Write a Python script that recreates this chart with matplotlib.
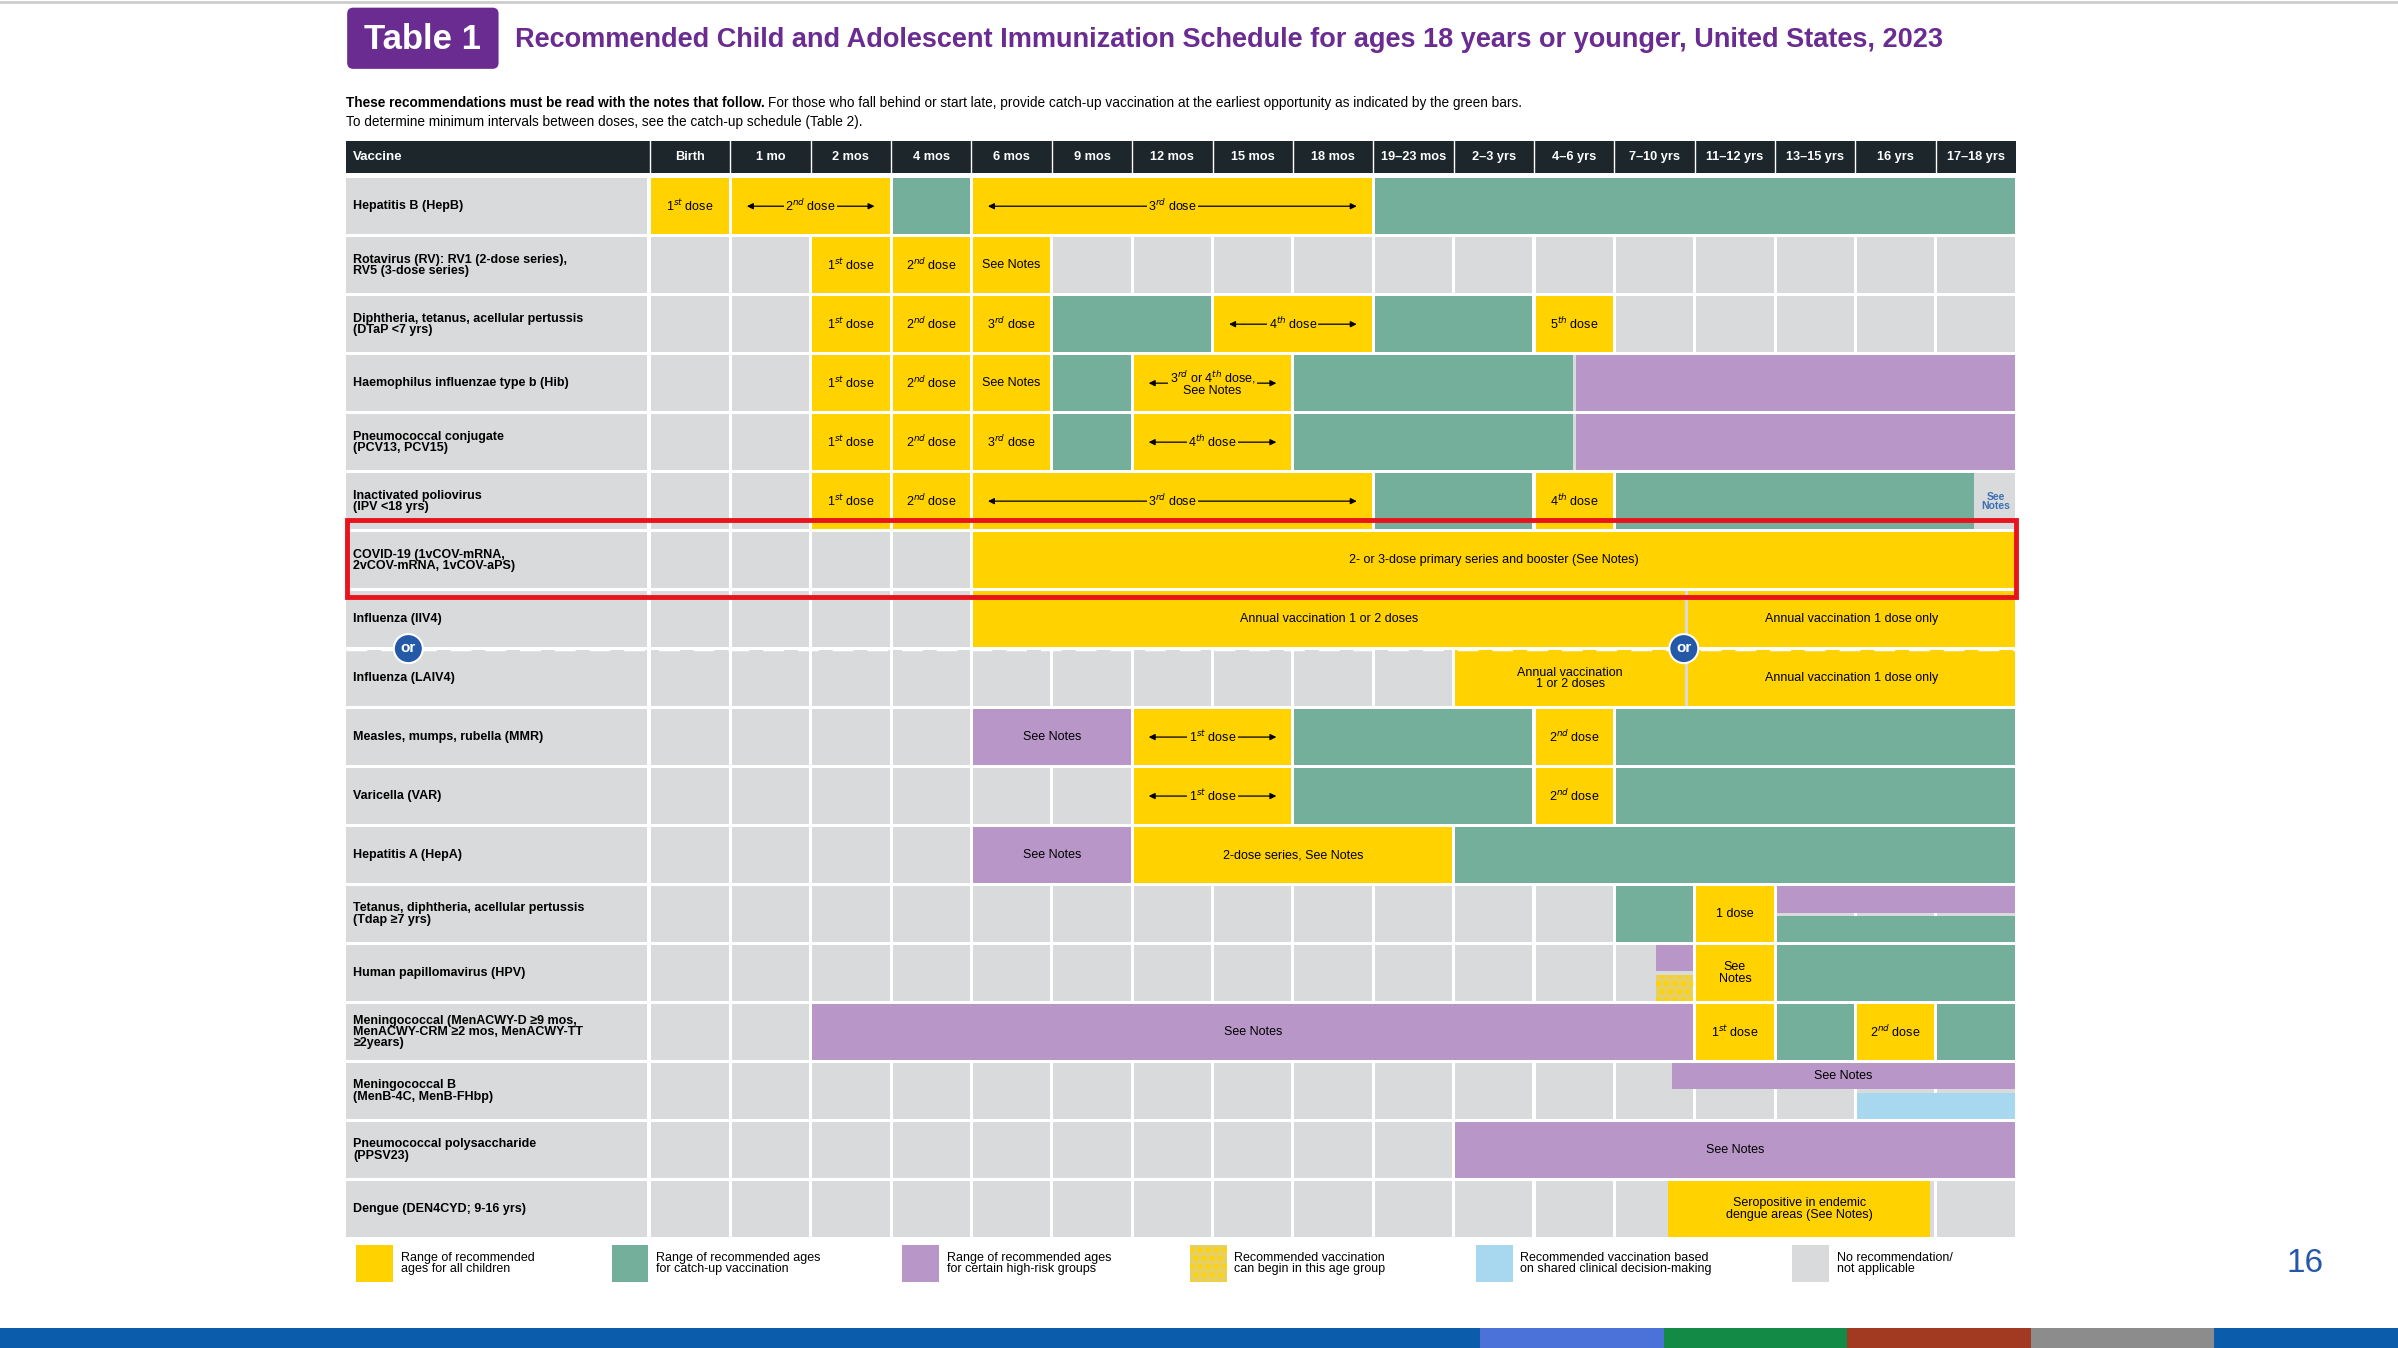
import matplotlib
matplotlib.use("Agg")
from matplotlib import pyplot as plt
from matplotlib.patches import Rectangle, FancyBboxPatch, Circle

plt.rcParams['font.family'] = ['Liberation Sans', 'DejaVu Sans']

# colours
Y = '#FFD200'; G = '#74AF9B'; P = '#B896C8'; GR = '#D9DADB'; B = '#A8D8F0'; H = 'hatch'

ages = ['Birth', '1 mo', '2 mos', '4 mos', '6 mos', '9 mos', '12 mos', '15 mos', '18 mos',
        '19–23 mos', '2–3 yrs', '4–6 yrs', '7–10 yrs', '11–12 yrs', '13–15 yrs', '16 yrs', '17–18 yrs']

vaccines = ['Hepatitis B (HepB)',
            'Rotavirus (RV): RV1 (2-dose series),\nRV5 (3-dose series)',
            'Diphtheria, tetanus, acellular pertussis\n(DTaP <7 yrs)',
            'Haemophilus influenzae type b (Hib)',
            'Pneumococcal conjugate\n(PCV13, PCV15)',
            'Inactivated poliovirus\n(IPV <18 yrs)',
            'COVID-19 (1vCOV-mRNA,\n2vCOV-mRNA, 1vCOV-aPS)',
            'Influenza (IIV4)',
            'Influenza (LAIV4)',
            'Measles, mumps, rubella (MMR)',
            'Varicella (VAR)',
            'Hepatitis A (HepA)',
            'Tetanus, diphtheria, acellular pertussis\n(Tdap ≥7 yrs)',
            'Human papillomavirus (HPV)',
            'Meningococcal (MenACWY-D ≥9 mos,\nMenACWY-CRM ≥2 mos, MenACWY-TT\n≥2years)',
            'Meningococcal B\n(MenB-4C, MenB-FHbp)',
            'Pneumococcal polysaccharide\n(PPSV23)',
            'Dengue (DEN4CYD; 9-16 yrs)']

d1 = '1$^{st}$ dose'; d2 = '2$^{nd}$ dose'; d3 = '3$^{rd}$ dose'; d4 = '4$^{th}$ dose'; d5 = '5$^{th}$ dose'
# (row, first col, last col + 1, colour, text, part) part: 'f' full, 't' top half, 'b' bottom half, 'a' arrow text
spans = [
    (0, 0, 1, Y, d1, 'f'), (0, 1, 3, Y, d2, 'a'), (0, 3, 4, G, '', 'f'),
    (0, 4, 9, Y, d3, 'a'), (0, 9, 17, G, '', 'f'),
    (1, 2, 3, Y, d1, 'f'), (1, 3, 4, Y, d2, 'f'), (1, 4, 5, Y, 'See Notes', 'f'),
    (2, 2, 3, Y, d1, 'f'), (2, 3, 4, Y, d2, 'f'), (2, 4, 5, Y, d3, 'f'), (2, 5, 7, G, '', 'f'),
    (2, 7, 9, Y, d4, 'a'), (2, 9, 11, G, '', 'f'), (2, 11, 12, Y, d5, 'f'),
    (3, 2, 3, Y, d1, 'f'), (3, 3, 4, Y, d2, 'f'), (3, 4, 5, Y, 'See Notes', 'f'), (3, 5, 6, G, '', 'f'),
    (3, 6, 8, Y, '3$^{rd}$ or 4$^{th}$ dose,\nSee Notes', 'a'), (3, 8, 11.5, G, '', 'f'), (3, 11.5, 17, P, '', 'f'),
    (4, 2, 3, Y, d1, 'f'), (4, 3, 4, Y, d2, 'f'), (4, 4, 5, Y, d3, 'f'), (4, 5, 6, G, '', 'f'),
    (4, 6, 8, Y, d4, 'a'), (4, 8, 11.5, G, '', 'f'), (4, 11.5, 17, P, '', 'f'),
    (5, 2, 3, Y, d1, 'f'), (5, 3, 4, Y, d2, 'f'), (5, 4, 9, Y, d3, 'a'), (5, 9, 11, G, '', 'f'),
    (5, 11, 12, Y, d4, 'f'), (5, 12, 16.5, G, '', 'f'),
    (6, 4, 17, Y, '2- or 3-dose primary series and booster (See Notes)', 'f'),
    (7, 4, 12.9, Y, 'Annual vaccination 1 or 2 doses', 'f'), (7, 12.9, 17, Y, 'Annual vaccination 1 dose only', 'f'),
    (8, 10, 12.9, Y, 'Annual vaccination\n1 or 2 doses', 'f'), (8, 12.9, 17, Y, 'Annual vaccination 1 dose only', 'f'),
    (9, 4, 6, P, 'See Notes', 'f'), (9, 6, 8, Y, d1, 'a'), (9, 8, 11, G, '', 'f'), (9, 11, 12, Y, d2, 'f'),
    (9, 12, 17, G, '', 'f'),
    (10, 6, 8, Y, d1, 'a'), (10, 8, 11, G, '', 'f'), (10, 11, 12, Y, d2, 'f'), (10, 12, 17, G, '', 'f'),
    (11, 4, 6, P, 'See Notes', 'f'), (11, 6, 10, Y, '2-dose series, See Notes', 'f'), (11, 10, 17, G, '', 'f'),
    (12, 12, 13, G, '', 'f'), (12, 13, 14, Y, '1 dose', 'f'), (12, 14, 17, P, '', 't'), (12, 14, 17, G, '', 'b'),
    (13, 12.5, 13, P, '', 't'), (13, 12.5, 13, H, '', 'b'), (13, 13, 14, Y, 'See\nNotes', 'f'), (13, 14, 17, G, '', 'f'),
    (14, 2, 13, P, 'See Notes', 'f'), (14, 13, 14, Y, d1, 'f'), (14, 14, 15, G, '', 'f'),
    (14, 15, 16, Y, d2, 'f'), (14, 16, 17, G, '', 'f'),
    (15, 12.7, 17, P, 'See Notes', 't'), (15, 15, 17, B, '', 'b'),
    (16, 10, 17, P, 'See Notes', 'f'),
    (17, 12.65, 15.95, Y, 'Seropositive in endemic\ndengue areas (See Notes)', 'f'),
]

legend_items = [(Y, 'Range of recommended\nages for all children'),
                (G, 'Range of recommended ages\nfor catch-up vaccination'),
                (P, 'Range of recommended ages\nfor certain high-risk groups'),
                (H, 'Recommended vaccination\ncan begin in this age group'),
                (B, 'Recommended vaccination based\non shared clinical decision-making'),
                (GR, 'No recommendation/\nnot applicable')]

# layout in 1568x881 page units
X0, LX, CW = 425, 226, 52.55
RT, RH = 115.5, 38.55
fs = 9.6

fig = plt.figure(figsize=(23.98, 13.48), dpi=100)
ax = fig.add_axes([0, 0, 1, 1])
ax.set_xlim(0, 1568); ax.set_ylim(881, 0); ax.axis('off')


def cx(c):
    return X0 + c * CW


def cell(x0, x1, y0, y1, col):
    if col == H:
        ax.add_patch(Rectangle((x0, y0), x1 - x0, y1 - y0, facecolor='#E8D060', edgecolor='none'))
        ax.add_patch(Rectangle((x0, y0), x1 - x0, y1 - y0, facecolor='none', edgecolor='#FFD200',
                               hatch='oo', lw=0))
    else:
        ax.add_patch(Rectangle((x0, y0), x1 - x0, y1 - y0, facecolor=col, edgecolor='none'))


# title
ax.add_patch(FancyBboxPatch((227, 5), 99, 40, boxstyle='round,pad=0,rounding_size=4',
                            facecolor='#6B2C91', edgecolor='none'))
ax.text(276, 26, 'Table 1', color='white', fontsize=25, fontweight='bold', ha='center', va='center')
ax.text(337, 26, 'Recommended Child and Adolescent Immunization Schedule for ages 18 years or younger, United States, 2023',
        color='#6B2C91', fontsize=19.5, fontweight='bold', ha='left', va='center')
t1 = ax.text(226, 67, 'These recommendations must be read with the notes that follow. ', fontsize=9.8,
             fontweight='bold', ha='left', va='center')
ax.annotate('For those who fall behind or start late, provide catch-up vaccination at the earliest opportunity as indicated by the green bars.',
            xy=(1, 0.5), xycoords=t1, fontsize=9.8, ha='left', va='center')
ax.text(226, 80, 'To determine minimum intervals between doses, see the catch-up schedule (Table 2).',
        fontsize=9.8, ha='left', va='center')
ax.plot([0, 1568], [1, 1], color='#CCCCCC', lw=2)

# header
ax.add_patch(Rectangle((LX, 92), cx(17) - LX, 21, facecolor='#1C262B'))
ax.text(LX + 5, 102.5, 'Vaccine', color='white', fontsize=fs, fontweight='bold', va='center')
for i, a in enumerate(ages):
    ax.plot([cx(i), cx(i)], [92, 113], color='white', lw=1)
    ax.text(cx(i) + CW / 2, 102.5, a, color='white', fontsize=fs - 0.4, fontweight='bold', ha='center', va='center')

# grey background cells and vaccine labels
for r, name in enumerate(vaccines):
    y0 = RT + r * RH + 1
    y1 = RT + (r + 1) * RH - 1
    cell(LX, X0 - 2, y0, y1, GR)
    ax.text(LX + 5, (y0 + y1) / 2, name, fontsize=fs - 0.6, fontweight='bold', va='center',
            ha='left', linespacing=0.9)
    for c in range(17):
        cell(cx(c) + 1, cx(c + 1) - 1, y0, y1, GR)

# coloured spans
for r, c0, c1, col, txt, part in spans:
    y0 = RT + r * RH + 1
    y1 = RT + (r + 1) * RH - 1
    ym = (y0 + y1) / 2
    if part == 't':
        y1 = ym - 1
    elif part == 'b':
        y0 = ym + 1
    x0, x1 = cx(c0) + 1, cx(c1) - 1
    cell(x0, x1, y0, y1, col)
    if txt:
        yt = (y0 + y1) / 2
        if part == 'a':
            ax.annotate('', xy=(x0 + 8, yt), xytext=(x1 - 8, yt),
                        arrowprops=dict(arrowstyle='<|-|>', lw=0.9, color='black', mutation_scale=9))
            ax.text((x0 + x1) / 2, yt, txt, fontsize=fs - 0.6, ha='center', va='center', linespacing=0.85,
                    bbox=dict(facecolor=Y, edgecolor='none', pad=1))
        else:
            ax.text((x0 + x1) / 2, yt, txt, fontsize=fs - 0.6, ha='center', va='center', linespacing=0.9)

# IPV see notes in last column
ax.text(cx(16.5) + 13, RT + 5.5 * RH, 'See\nNotes', fontsize=7.5, color='#3A6FB7', fontweight='bold',
        ha='center', va='center', linespacing=0.85)

# influenza "or" separator
yd = RT + 8 * RH
ax.plot([LX, cx(17)], [yd, yd], color='white', lw=2.5, ls=(0, (6, 4)))
for xo in (267, 1101):
    ax.add_patch(Circle((xo, yd), 9.5, facecolor='#2459A8', edgecolor='white', lw=1.5, zorder=5))
    ax.text(xo, yd - 0.5, 'or', color='white', fontsize=11, fontweight='bold', ha='center', va='center', zorder=6)

# COVID highlight
ax.add_patch(Rectangle((227, RT + 6 * RH - 7), cx(17) - 227, RH + 12, facecolor='none',
                       edgecolor='#E8141C', lw=3.5))

# legend
lx = [233, 400, 590, 778, 965, 1172]
for x, (col, txt) in zip(lx, legend_items):
    cell(x, x + 24, 814, 838, col)
    ax.text(x + 29, 826, txt, fontsize=fs - 0.6, ha='left', va='center', linespacing=0.9)

ax.text(1507, 826, '16', color='#2459A8', fontsize=24, ha='center', va='center')

# bottom stripe
stripe = [(0, 968, '#0B5CAB'), (968, 1088, '#4A72D8'), (1088, 1208, '#138A45'),
          (1208, 1328, '#A23A22'), (1328, 1448, '#8C8C8C'), (1448, 1568, '#0B5CAB')]
for a, b, col in stripe:
    ax.add_patch(Rectangle((a, 868), b - a, 13, facecolor=col, edgecolor='none'))

fig.savefig('out.png', dpi=100)
